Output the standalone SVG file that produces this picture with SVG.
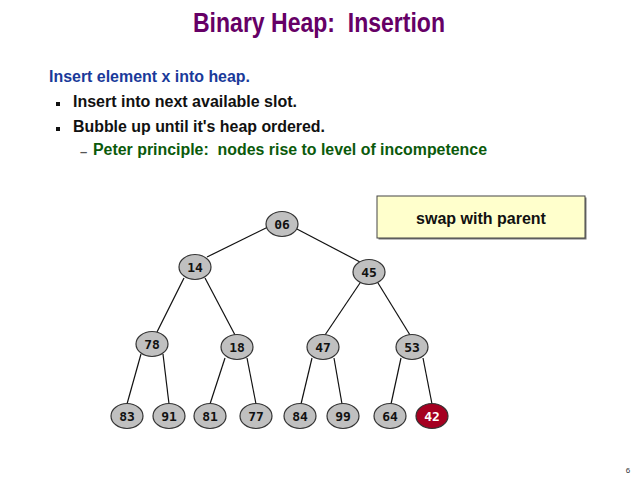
<svg xmlns="http://www.w3.org/2000/svg" width="638" height="478" viewBox="0 0 638 478">
<style>
.n ellipse{fill:#c0c0c0;stroke:#333;stroke-width:1.2}
.n text{font-family:"DejaVu Sans Mono","Liberation Mono",monospace;font-weight:bold;font-size:13px;fill:#111;text-anchor:middle}
.hot ellipse{fill:#a50021}
.hot text{fill:#fff}
.e line{stroke:#111;stroke-width:1.2}
.b{font-family:"Liberation Sans",Arial,sans-serif;font-weight:bold;white-space:pre}
</style>
<rect width="638" height="478" fill="#fff"/>
<text class="b" x="193" y="32" font-size="27" fill="#660066" font-family="'Liberation Sans Narrow','Liberation Sans',sans-serif" textLength="252" lengthAdjust="spacingAndGlyphs">Binary Heap:  Insertion</text>
<text class="b" x="49" y="82" font-size="16" fill="#1a3a9a" textLength="201" lengthAdjust="spacingAndGlyphs">Insert element x into heap.</text>
<rect x="56" y="102" width="4" height="4" fill="#111"/>
<text class="b" x="73" y="107" font-size="16" fill="#111" textLength="224" lengthAdjust="spacingAndGlyphs">Insert into next available slot.</text>
<rect x="56" y="127" width="4" height="4" fill="#111"/>
<text class="b" x="73" y="132" font-size="16" fill="#111" textLength="252" lengthAdjust="spacingAndGlyphs">Bubble up until it's heap ordered.</text>
<text class="b" x="80" y="156" font-size="13" fill="#555">–</text>
<text class="b" x="93" y="155" font-size="16" fill="#0b5a0b" textLength="394" lengthAdjust="spacingAndGlyphs">Peter principle:  nodes rise to level of incompetence</text>
<g id="note">
<rect x="378.5" y="197.5" width="208" height="42" fill="#777"/>
<rect x="377" y="196" width="208" height="42" fill="#ffffcc" stroke="#444" stroke-width="1"/>
<text class="b" x="481" y="224" font-size="16" fill="#111" text-anchor="middle">swap with parent</text>
</g>
<g id="edges" class="e">
<line x1="268" y1="227" x2="207" y2="257"/>
<line x1="295" y1="228" x2="360" y2="262"/>
<line x1="184" y1="278" x2="157" y2="332"/>
<line x1="205" y1="278" x2="235" y2="335"/>
<line x1="360" y1="283" x2="325" y2="335"/>
<line x1="378" y1="283" x2="410" y2="335"/>
<line x1="141" y1="354" x2="127" y2="404"/>
<line x1="163" y1="354" x2="169" y2="404"/>
<line x1="225" y1="358" x2="210" y2="404"/>
<line x1="247" y1="358" x2="256" y2="404"/>
<line x1="312" y1="358" x2="301" y2="404"/>
<line x1="334" y1="358" x2="342" y2="404"/>
<line x1="401" y1="358" x2="391" y2="404"/>
<line x1="423" y1="358" x2="432" y2="404"/>
</g>
<g id="n06" class="n"><ellipse cx="282" cy="224" rx="16" ry="12.5"/><text x="282" y="228.5">06</text></g>
<g id="n14" class="n"><ellipse cx="195" cy="267" rx="16" ry="12.5"/><text x="195" y="271.5">14</text></g>
<g id="n45" class="n"><ellipse cx="369" cy="272" rx="16" ry="12.5"/><text x="369" y="276.5">45</text></g>
<g id="n78" class="n"><ellipse cx="152" cy="344" rx="16" ry="12.5"/><text x="152" y="348.5">78</text></g>
<g id="n18" class="n"><ellipse cx="237" cy="347" rx="16" ry="12.5"/><text x="237" y="351.5">18</text></g>
<g id="n47" class="n"><ellipse cx="323" cy="347" rx="16" ry="12.5"/><text x="323" y="351.5">47</text></g>
<g id="n53" class="n"><ellipse cx="412" cy="347" rx="16" ry="12.5"/><text x="412" y="351.5">53</text></g>
<g id="n83" class="n"><ellipse cx="127" cy="416" rx="16" ry="12.5"/><text x="127" y="420.5">83</text></g>
<g id="n91" class="n"><ellipse cx="169" cy="416" rx="16" ry="12.5"/><text x="169" y="420.5">91</text></g>
<g id="n81" class="n"><ellipse cx="210" cy="416" rx="16" ry="12.5"/><text x="210" y="420.5">81</text></g>
<g id="n77" class="n"><ellipse cx="256" cy="416" rx="16" ry="12.5"/><text x="256" y="420.5">77</text></g>
<g id="n84" class="n"><ellipse cx="300" cy="416" rx="16" ry="12.5"/><text x="300" y="420.5">84</text></g>
<g id="n99" class="n"><ellipse cx="343" cy="416" rx="16" ry="12.5"/><text x="343" y="420.5">99</text></g>
<g id="n64" class="n"><ellipse cx="390" cy="416" rx="16" ry="12.5"/><text x="390" y="420.5">64</text></g>
<g id="n42" class="n hot"><ellipse cx="432" cy="416" rx="16" ry="12.5"/><text x="432" y="420.5">42</text></g>
<text x="628" y="473" font-family="'Liberation Sans',sans-serif" font-size="8" fill="#333" text-anchor="middle">6</text>
</svg>
